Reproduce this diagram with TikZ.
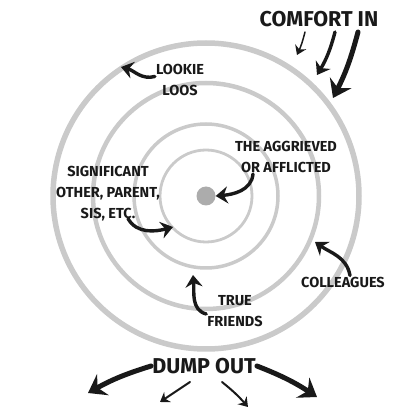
\documentclass[tikz,border=0pt]{standalone}
\usepackage{fontspec}
\setmainfont{Fira Sans}
\usetikzlibrary{arrows.meta}
\definecolor{ringgray}{RGB}{202,202,202}
\definecolor{dotgray}{RGB}{172,172,172}
\definecolor{ink}{RGB}{25,25,25}
\begin{document}
\begin{tikzpicture}
 [line cap=round,line join=round,x=1pt,y=1pt,
 ring/.style={draw=ringgray},
 lbl/.style={font=\bfseries\fontsize{14.5}{21}\selectfont,align=center,text=ink,inner sep=1pt},
 big/.style={font=\bfseries\fontsize{21.5}{22}\selectfont,text=ink,inner sep=1pt},
 arr/.style={ink,line width=3.4pt,-{Stealth[length=12pt,width=17pt,inset=4pt]}},
 thinarr/.style={ink,line width=2pt,-{Stealth[length=9pt,width=12pt,inset=3pt]}},
 fatarr/.style={ink,line width=5pt,-{Stealth[length=17pt,width=24pt,inset=6pt]}}]
\useasboundingbox (0,0) rectangle (413,413);

% rings
\coordinate (c) at (206,217);
\draw[ring,line width=5.5pt] (c) circle (153);
\draw[ring,line width=4.5pt] (c) circle (113);
\draw[ring,line width=3.5pt] (c) circle (72);
\draw[ring,line width=2.8pt] (c) circle (46);
\node[circle,fill=dotgray,minimum size=19pt,inner sep=0pt] (dot) at (c) {};

% labels
\node[big] (comfort) at (319,394) {COMFORT IN};
\node[lbl] (lookie) at (180,333.5) {LOOKIE\\LOOS};
\node[lbl] (aggr) at (286,256) {THE AGGRIEVED\\OR AFFLICTED};
\node[lbl] (sig) at (108,219) {SIGNIFICANT\\OTHER, PARENT,\\SIS, ETC.};
\node[lbl] (coll) at (343,131) {COLLEAGUES};
\node[lbl] (true) at (235,102) {TRUE\\FRIENDS};
\node[big] (dump) at (204,47) {DUMP OUT};

% arrow ends
\coordinate (lookietip) at (121,346);
\coordinate (sigtip) at (173,186);
\coordinate (colltip) at (315,171);
\coordinate (truetip) at (193,138);
\coordinate (ca) at (305,381);
\coordinate (cb) at (335,381);
\coordinate (cc) at (358,381);
\coordinate (catip) at (297,358);
\coordinate (cbtip) at (317,338);
\coordinate (cctip) at (333,315);
\coordinate (da) at (190,31);
\coordinate (db) at (222,31);
\coordinate (datip) at (160,11);
\coordinate (dbtip) at (248,6);
\coordinate (dctip) at (88,20);
\coordinate (ddtip) at (317,16);

\draw[arr] ([yshift=3pt]lookie.west) to[out=195,in=-15] (lookietip);
\draw[arr] ([xshift=-33pt]aggr.south) to[out=-95,in=5] (dot.east);
\draw[arr] ([xshift=20pt,yshift=4pt]sig.south) to[out=-60,in=195] (sigtip);
\draw[arr] ([xshift=7pt]coll.north) to[out=100,in=-35] (colltip);
\draw[arr] ([yshift=-3pt]true.west) to[out=165,in=-85] (truetip);

\draw[thinarr,line width=1.5pt] (ca) to[bend left=5] (catip);
\draw[arr] (cb) to[bend left=8] (cbtip);
\draw[fatarr] (cc) to[bend left=6] (cctip);

\draw[fatarr] (dump.west) to[bend right=6] (dctip);
\draw[thinarr] (da) -- (datip);
\draw[thinarr] (db) to[bend left=5] (dbtip);
\draw[fatarr] (dump.east) to[bend left=6] (ddtip);
\end{tikzpicture}
\end{document}
